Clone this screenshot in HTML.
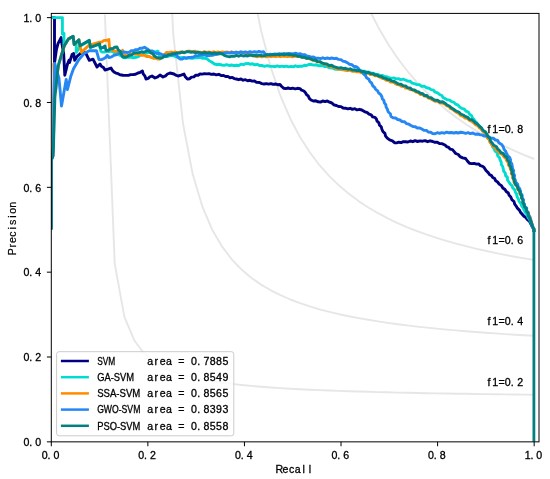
<!DOCTYPE html>
<html lang="en"><head><meta charset="utf-8"><title>Precision-Recall</title>
<style>html,body{margin:0;padding:0;background:#fff}body{width:550px;height:479px;overflow:hidden}</style></head>
<body>
<svg width="550" height="479" viewBox="0 0 550 479" style="display:block;font-family:'Liberation Sans', 'Liberation Mono', sans-serif;font-size:10.6px;white-space:pre;text-anchor:middle;filter:blur(0.35px)" fill="#000" stroke="none">
<rect width="550" height="479" fill="#fff"/>
<clipPath id="c"><rect x="51.3" y="13.4" width="487.7" height="428.45"/></clipPath>
<g clip-path="url(#c)" fill="none" stroke-linejoin="round" stroke-linecap="butt">
<polyline points="104.9,14.5 114.7,263.6 124.4,316.9 134.2,340.2 143.9,353.2 153.7,361.6 163.4,367.4 173.2,371.6 183.0,374.9 192.7,377.4 202.5,379.5 212.2,381.2 222.0,382.7 231.7,383.9 241.5,385.0 251.2,385.9 261.0,386.7 270.8,387.5 280.5,388.1 290.3,388.7 300.0,389.2 309.8,389.7 319.5,390.1 329.3,390.5 339.1,390.9 348.8,391.2 358.6,391.5 368.3,391.8 378.1,392.1 387.8,392.3 397.6,392.6 407.3,392.8 417.1,393.0 426.9,393.2 436.6,393.4 446.4,393.5 456.1,393.7 465.9,393.8 475.6,394.0 485.4,394.1 495.1,394.3 504.9,394.4 514.7,394.5 524.4,394.6 534.2,394.7" stroke="#808080" stroke-opacity="0.2" stroke-width="1.9"/>
<polyline points="153.7,-1052.2 163.4,-169.2 173.2,33.5 183.0,123.5 192.7,174.3 202.5,206.9 212.2,229.7 222.0,246.4 231.7,259.3 241.5,269.5 251.2,277.7 261.0,284.6 270.8,290.3 280.5,295.2 290.3,299.5 300.0,303.2 309.8,306.4 319.5,309.3 329.3,311.8 339.1,314.2 348.8,316.2 358.6,318.1 368.3,319.8 378.1,321.4 387.8,322.9 397.6,324.2 407.3,325.4 417.1,326.6 426.9,327.6 436.6,328.6 446.4,329.6 456.1,330.4 465.9,331.2 475.6,332.0 485.4,332.7 495.1,333.4 504.9,334.1 514.7,334.7 524.4,335.2 534.2,335.8" stroke="#808080" stroke-opacity="0.2" stroke-width="1.9"/>
<polyline points="202.5,-2608.5 212.2,-833.1 222.0,-399.4 231.7,-203.6 241.5,-92.1 251.2,-20.1 261.0,30.3 270.8,67.5 280.5,96.0 290.3,118.7 300.0,137.1 309.8,152.3 319.5,165.2 329.3,176.1 339.1,185.6 348.8,193.8 358.6,201.1 368.3,207.5 378.1,213.2 387.8,218.4 397.6,223.1 407.3,227.3 417.1,231.1 426.9,234.7 436.6,237.9 446.4,240.9 456.1,243.7 465.9,246.2 475.6,248.6 485.4,250.8 495.1,252.9 504.9,254.9 514.7,256.7 524.4,258.4 534.2,260.0" stroke="#808080" stroke-opacity="0.2" stroke-width="1.9"/>
<polyline points="251.2,-4547.8 261.0,-1707.5 270.8,-973.4 280.5,-636.5 290.3,-443.1 300.0,-317.5 309.8,-229.5 319.5,-164.3 329.3,-114.1 339.1,-74.3 348.8,-41.9 358.6,-15.0 368.3,7.6 378.1,26.9 387.8,43.6 397.6,58.2 407.3,71.0 417.1,82.3 426.9,92.5 436.6,101.6 446.4,109.9 456.1,117.3 465.9,124.2 475.6,130.4 485.4,136.1 495.1,141.4 504.9,146.3 514.7,150.9 524.4,155.1 534.2,159.0" stroke="#808080" stroke-opacity="0.2" stroke-width="1.9"/>
<polyline points="51.6,17.6 54.5,17.6 54.5,63.0 56.5,49.0 58.0,43.6 61.1,37.6 62.0,44.0 63.7,54.0 64.8,75.2 67.4,64.4 69.0,60.3 69.5,62.5 72.1,54.5 73.7,53.5 74.7,60.3 77.3,56.1 80.4,53.5 83.0,51.5 86.2,54.0 89.3,60.3 93.0,59.2 97.0,67.0 100.0,64.0 101.4,66.2 103.7,67.7 105.0,70.0 108.1,69.2 111.0,68.0 112.3,70.2 114.0,72.0 115.9,73.1 118.1,73.7 120.0,74.8 123.0,75.3 126.0,75.4 128.4,75.4 130.6,74.6 133.0,74.6 135.6,74.2 138.0,73.0 140.3,72.3 142.4,71.0 143.2,73.8 145.0,76.2 146.0,79.0 148.2,78.4 149.9,76.8 152.0,76.0 155.0,78.0 157.7,76.9 160.0,75.0 163.0,77.0 165.5,75.9 167.5,74.0 170.0,73.0 174.0,74.0 175.9,75.2 178.0,76.0 181.1,75.2 184.0,74.0 185.3,76.8 187.4,79.0 189.7,78.7 191.5,77.1 193.9,76.9 195.6,75.2 198.1,75.3 200.0,74.0 202.3,74.1 204.5,73.6 206.8,73.9 209.0,73.6 211.4,74.4 213.9,74.0 216.3,74.9 218.8,74.3 221.1,75.6 223.6,75.5 225.6,76.5 227.9,76.4 229.9,77.7 232.3,77.4 234.2,78.6 236.4,79.0 238.6,79.7 241.0,79.0 243.1,80.2 245.5,79.7 247.7,80.7 250.0,80.3 252.2,81.1 254.5,81.0 256.8,82.4 259.5,82.5 261.8,83.6 264.1,84.0 266.4,83.6 268.6,84.1 270.9,83.6 273.2,84.4 275.5,84.0 277.7,84.7 280.0,84.5 281.7,86.5 283.6,88.2 285.9,88.6 288.1,88.0 290.4,88.6 292.7,88.2 295.1,88.8 297.6,88.3 300.0,88.6 301.6,90.2 303.9,91.0 305.5,92.7 306.6,94.7 308.4,96.2 309.3,98.4 311.0,100.0 313.3,101.0 315.9,100.8 318.2,101.8 320.5,102.1 322.7,101.0 325.1,101.6 327.3,100.9 329.5,102.2 331.9,103.0 333.9,104.8 336.4,105.5 338.6,106.5 341.0,106.6 343.1,108.0 345.5,108.2 347.8,108.8 350.2,108.3 352.4,109.4 354.9,108.7 357.1,109.9 359.5,109.3 361.8,110.0 364.4,111.6 367.3,112.7 369.0,114.2 371.2,114.8 372.6,116.8 374.9,117.3 376.4,119.0 377.1,121.2 378.9,122.8 379.5,125.1 381.2,126.7 381.8,129.0 382.9,131.5 384.9,133.4 385.6,136.1 387.3,138.2 389.6,139.9 392.4,140.8 394.5,142.7 396.7,142.9 398.9,142.2 401.1,142.6 403.3,141.7 405.5,141.8 407.9,142.0 410.3,141.0 412.8,141.7 415.1,140.7 417.6,141.5 420.0,140.9 422.5,141.2 425.1,140.6 427.6,141.7 430.2,140.8 432.7,141.5 434.9,142.3 437.3,142.3 439.4,143.6 441.8,143.6 445.0,145.0 446.5,146.6 448.7,147.4 450.1,149.2 452.5,149.7 454.0,151.4 455.7,153.5 458.3,154.5 460.0,156.6 462.7,157.8 465.6,158.5 467.4,161.0 469.4,163.2 471.7,163.6 474.1,163.4 476.4,164.1 478.8,164.0 480.4,165.7 482.7,166.3 484.4,167.9 486.0,170.5 488.2,172.6 489.4,174.5 491.5,175.6 492.7,177.5 494.7,178.6 495.7,180.8 497.6,182.0 499.2,184.1 501.4,185.6 502.8,188.0 505.0,189.5 506.2,191.5 508.3,193.0 509.1,195.3 510.8,197.0 511.8,199.6 514.0,201.5 514.7,204.2 516.4,206.4 517.6,208.4 519.4,210.1 520.4,212.2 522.0,214.0 523.7,216.0 525.9,217.6 527.4,219.7 529.5,221.4 532.4,227.0 533.9,229.0 533.9,232.0" stroke="#000080" stroke-width="2.9"/>
<polyline points="51.6,17.6 62.4,17.6 62.4,34.0 64.0,33.5 63.9,46.0 68.4,39.0 73.1,36.6 74.2,44.6 76.2,42.8 76.3,52.4 80.3,46.0 89.3,41.0 90.4,47.4 99.6,44.0 99.6,46.4 100.5,48.6 100.7,51.0 101.8,52.0 104.3,52.1 106.7,51.2 109.2,51.6 111.6,51.0 113.7,52.3 116.0,53.0 118.2,54.7 120.9,55.7 123.0,57.5 125.7,57.7 128.3,57.1 131.0,57.3 133.5,57.7 136.0,57.3 138.4,56.6 140.4,55.1 142.9,54.6 145.0,53.3 147.7,53.0 150.2,51.8 153.0,51.8 155.6,52.0 158.0,51.2 158.7,54.2 160.0,57.0 162.7,57.2 165.2,56.2 167.8,56.5 170.4,55.6 173.0,55.5 175.4,56.7 178.0,57.3 180.6,57.7 183.2,57.4 185.8,58.2 188.4,57.8 191.0,58.2 193.3,58.2 195.5,57.5 197.8,57.8 200.0,57.3 202.4,58.2 204.9,58.2 207.3,59.0 209.2,60.8 211.6,62.0 214.5,64.0 216.9,64.7 219.4,64.3 221.8,65.0 224.2,65.4 226.7,64.6 229.1,65.5 231.5,65.0 234.0,65.7 236.4,65.3 238.8,65.5 241.0,64.2 243.4,64.7 245.6,63.6 248.0,63.5 250.2,64.2 252.6,63.8 254.9,64.8 257.3,64.4 259.4,65.5 261.8,65.5 264.5,66.3 267.3,65.6 270.0,66.4 272.7,66.4 275.0,66.7 277.3,65.9 279.6,66.7 281.9,66.2 284.1,66.7 286.4,66.2 288.7,66.9 291.0,66.4 293.3,66.9 295.5,65.8 297.8,66.6 300.0,66.2 302.3,66.3 304.4,65.3 306.6,65.5 308.7,64.5 311.0,64.5 313.7,65.1 316.4,64.8 319.0,65.8 321.8,65.5 324.3,66.5 327.0,66.6 329.3,67.9 332.0,68.0 334.5,69.0 337.1,69.4 339.8,68.8 342.4,69.8 345.0,69.5 347.5,70.0 350.0,69.7 352.5,70.5 355.0,69.9 357.5,70.7 360.0,70.5 362.2,71.2 364.6,71.1 366.8,72.3 369.2,72.2 371.3,73.3 373.7,73.2 375.8,74.4 378.2,74.5 380.2,75.6 382.6,75.5 384.6,76.6 386.9,76.8 389.0,77.6 391.3,78.4 393.8,77.9 396.0,78.9 398.5,78.6 400.7,79.7 403.2,79.2 405.5,80.0 407.7,81.1 410.2,81.3 412.1,83.1 414.5,83.6 416.9,84.6 419.5,84.7 421.6,86.3 424.3,86.2 426.5,87.8 429.0,88.2 431.0,89.6 433.5,90.2 435.2,92.2 437.7,92.8 439.5,94.5 441.8,95.5 443.0,97.4 445.0,98.6 447.1,99.8 449.6,100.1 451.6,101.7 454.0,102.3 455.5,104.2 457.9,105.0 459.5,106.8 461.7,108.4 464.3,109.2 466.1,111.2 468.6,112.3 469.6,114.3 471.6,115.6 472.4,117.9 474.0,119.5 475.2,121.4 477.0,122.8 478.0,124.8 479.7,126.2 481.0,128.0 482.2,130.2 484.2,131.8 485.3,134.1 487.0,136.0 488.0,138.2 489.6,140.1 490.3,142.4 491.9,144.3 492.5,146.7 494.0,148.6 495.1,151.1 497.2,152.9 497.7,155.7 499.5,157.7 500.1,160.0 501.2,162.1 501.3,164.5 502.7,166.5 503.2,168.8 503.7,171.2 505.3,173.1 505.6,175.6 507.4,177.4 507.5,180.0 508.9,182.0 510.2,184.0 511.9,185.6 512.8,187.9 514.5,189.5 515.3,191.9 516.6,194.1 517.1,196.7 518.3,198.9 519.1,201.3 520.7,203.3 521.6,205.6 523.0,207.7 524.0,210.0 525.1,212.5 527.1,214.5 527.9,217.2 529.5,219.5 533.3,228.5 533.9,229.0 533.9,232.0" stroke="#00ddd0" stroke-width="2.9"/>
<polyline points="51.3,229.5 51.3,160.0 53.0,156.0 53.5,145.0 53.8,100.0 54.2,78.0 53.8,64.0 54.6,70.0 55.6,90.0 57.0,75.9 58.4,65.4 61.1,56.1 64.3,45.7 68.4,38.9 73.1,36.4 74.2,44.6 78.9,39.9 79.9,45.7 81.5,52.4 88.3,45.7 92.0,44.5 99.6,42.2 102.0,41.9 104.1,40.4 106.7,40.4 108.9,39.5 109.4,47.0 110.8,48.8 112.7,50.0 114.7,51.3 117.3,51.2 119.3,52.5 122.5,50.4 123.6,53.3 125.0,56.0 127.6,55.5 130.1,54.3 132.7,53.7 135.1,54.3 137.6,54.1 140.0,54.5 142.1,55.4 144.5,55.3 146.5,56.5 148.9,56.4 151.0,57.4 153.2,58.2 155.5,58.0 157.7,59.0 160.0,59.0 161.8,57.5 163.0,55.5 165.1,54.2 166.5,52.4 168.7,52.8 170.9,52.0 173.1,52.6 175.4,52.0 177.6,52.8 179.8,52.0 182.0,52.3 184.7,52.2 187.3,51.3 190.0,51.2 192.5,51.9 195.0,51.1 197.5,52.3 200.0,52.1 202.2,52.6 204.5,51.6 206.7,52.5 209.0,52.0 211.2,52.6 213.5,51.8 215.7,52.5 218.0,52.0 220.2,52.6 222.5,51.9 224.7,52.5 227.0,52.0 229.2,52.6 231.5,51.8 233.7,52.7 236.0,52.1 238.2,52.6 240.5,52.0 242.7,52.6 245.0,52.4 247.4,53.6 250.1,54.1 252.4,55.6 255.0,56.4 257.3,56.8 259.6,56.1 261.9,56.8 264.2,55.9 266.5,56.8 268.8,56.0 271.2,56.7 273.5,56.0 275.8,56.7 278.1,56.0 280.4,56.7 282.7,56.1 285.0,56.4 287.5,56.6 290.0,56.1 292.5,56.8 295.0,56.0 297.5,56.7 300.0,56.2 302.1,57.3 304.5,57.1 306.5,58.5 308.9,58.5 311.0,59.5 313.1,60.4 315.4,60.7 317.4,61.8 319.7,62.1 321.8,63.0 323.8,64.0 326.0,64.4 327.9,65.7 330.2,65.9 332.0,67.4 334.5,67.3 336.4,68.5 339.2,69.4 342.2,69.1 345.0,70.0 347.3,70.5 349.8,70.0 352.1,71.2 354.5,71.0 356.7,71.9 359.1,71.5 361.2,72.8 363.7,72.3 365.8,73.6 368.2,73.1 370.3,74.5 372.7,74.5 375.0,75.7 377.7,75.9 380.0,77.2 382.1,78.3 384.4,78.8 386.3,80.3 388.7,80.3 390.5,82.1 393.0,82.1 395.0,83.4 397.0,84.6 399.4,84.9 401.4,86.3 403.9,86.3 405.7,88.1 408.1,88.1 410.0,89.6 412.4,89.9 414.5,91.0 416.4,92.2 418.6,92.8 420.3,94.5 422.8,94.6 424.5,96.2 426.8,96.7 428.6,98.2 430.8,98.8 432.7,100.0 435.0,101.3 437.8,101.3 440.0,102.9 442.6,103.1 445.0,104.2 446.6,105.8 448.9,106.3 450.2,108.3 452.3,109.2 454.0,110.6 456.2,112.2 458.7,113.4 460.6,115.5 463.2,116.5 465.2,118.1 467.8,118.7 469.6,120.6 472.0,121.5 474.0,123.0 475.6,124.9 478.0,125.7 479.4,127.9 481.4,129.2 482.9,131.4 485.1,133.1 486.3,135.5 487.3,137.8 489.2,139.5 489.9,142.0 491.3,144.0 492.8,146.2 495.3,147.4 496.4,149.9 498.5,151.5 500.2,153.5 502.6,154.7 504.0,156.9 506.0,158.5 506.7,160.7 508.3,162.6 508.5,165.1 510.0,167.0 510.4,169.2 511.6,171.2 511.3,173.6 512.8,175.4 512.6,177.8 513.7,179.8 514.0,182.0 515.2,184.5 517.2,186.5 517.7,189.3 519.5,191.4 519.8,193.7 521.3,195.7 521.5,198.0 523.0,200.0 522.8,202.5 524.0,204.5 524.8,206.6 526.2,208.5 526.6,210.8 528.4,212.4 528.7,214.8 530.0,216.7 533.3,228.5 533.9,229.0 533.9,232.0" stroke="#ff8c00" stroke-width="2.9"/>
<polyline points="51.3,229.5 51.3,160.0 53.0,156.0 53.5,145.0 53.8,100.0 54.4,75.0 54.8,63.4 56.4,70.0 58.9,78.0 60.0,89.4 61.5,106.0 66.2,79.5 67.4,89.6 70.9,75.9 73.5,68.8 78.9,59.6 84.1,53.5 89.3,50.8 96.4,50.6 99.0,59.6 101.6,59.6 104.0,58.5 105.9,57.3 107.3,55.5 109.0,57.5 111.6,56.9 113.8,55.3 116.2,54.9 118.2,53.6 121.0,53.1 123.6,51.8 127.0,52.5 129.3,52.1 131.2,50.7 133.6,50.7 135.7,49.6 138.0,49.6 140.0,48.2 142.4,48.2 144.5,47.3 147.3,49.0 149.5,50.7 152.3,51.0 154.5,52.7 157.1,53.5 159.8,53.5 162.3,54.6 165.0,55.0 167.3,55.2 169.6,54.6 171.9,55.2 174.1,54.3 176.4,54.5 177.8,57.1 180.0,59.0 182.3,59.1 184.3,57.8 186.6,58.2 188.8,57.4 191.0,57.3 193.4,57.1 195.4,55.8 197.9,55.9 200.0,54.8 202.2,55.3 204.5,54.8 206.7,55.8 209.0,55.5 212.1,55.4 215.0,54.5 217.5,54.3 219.9,53.6 222.4,53.8 224.8,52.7 227.3,52.7 229.6,53.1 231.8,52.3 234.1,52.9 236.4,52.2 238.7,52.8 240.9,51.9 243.2,52.5 245.4,51.9 247.7,52.6 250.0,51.7 252.3,52.3 254.5,51.6 256.8,52.4 259.0,51.4 261.3,52.2 263.6,51.8 265.5,54.5 267.8,54.8 270.1,54.1 272.5,54.6 274.8,53.9 277.1,54.6 279.4,53.7 281.7,54.4 284.0,53.5 286.4,54.3 288.7,53.4 291.0,53.6 293.2,53.9 295.5,53.2 297.8,54.1 300.0,53.6 302.1,54.8 304.6,54.6 306.7,55.9 309.0,56.4 311.2,57.2 313.6,57.0 315.8,58.2 318.2,58.2 320.5,58.7 322.8,57.8 325.0,58.6 327.3,58.0 329.6,58.6 331.8,58.0 334.1,58.6 336.4,58.2 338.5,59.4 340.9,59.6 342.9,61.1 345.2,61.6 347.3,62.7 349.3,64.2 351.8,64.6 353.7,66.3 356.2,66.7 358.2,68.2 359.8,70.3 362.2,71.5 363.4,73.9 365.5,75.5 366.6,77.8 368.8,79.2 369.8,81.5 371.7,83.2 372.6,85.6 374.5,87.3 375.7,89.3 377.6,90.8 378.6,93.0 380.6,94.4 381.8,96.4 382.3,98.7 383.9,100.5 384.3,102.8 385.8,104.7 386.1,107.0 387.3,109.0 388.1,111.7 390.3,113.7 391.0,116.4 393.1,117.7 395.6,118.0 397.6,119.5 400.0,120.0 402.0,121.5 404.6,121.8 406.5,123.6 408.9,124.2 411.0,125.5 413.0,126.6 415.4,126.7 417.3,128.0 419.8,127.9 421.8,129.0 423.9,130.2 426.4,130.4 428.2,132.0 430.7,132.2 432.7,133.6 435.0,133.7 437.2,132.7 439.6,133.4 441.8,132.7 444.2,133.2 446.6,132.1 448.9,132.8 451.3,132.5 453.7,133.0 456.1,132.5 458.4,133.0 460.8,132.2 463.2,132.6 465.6,133.3 468.1,132.7 470.4,133.6 472.9,133.0 475.2,134.2 477.7,134.0 479.8,134.7 482.1,134.9 484.1,136.1 486.5,136.0 488.6,136.8 490.8,138.0 493.3,138.2 495.3,139.9 497.7,140.5 499.1,142.9 501.7,144.4 503.2,146.8 504.1,149.4 505.8,151.5 506.8,154.0 507.8,156.0 509.6,157.4 510.5,159.5 510.5,161.8 511.8,163.8 512.2,166.0 512.5,168.4 513.7,170.6 513.3,173.1 514.5,175.3 514.3,177.8 515.3,180.0 515.9,182.4 517.7,184.2 518.1,186.7 519.7,188.7 520.4,191.0 520.8,193.3 522.2,195.2 522.1,197.6 523.3,199.6 523.2,202.0 524.4,204.0 524.8,206.4 526.7,208.1 526.6,210.7 528.1,212.6 528.6,214.9 529.7,217.0 533.3,228.5 533.9,229.0 533.9,232.0" stroke="#2487f3" stroke-width="2.9"/>
<polyline points="51.3,229.5 51.3,160.0 52.7,157.0 53.5,145.0 54.9,96.8 56.1,86.3 57.0,75.9 58.4,65.4 61.1,56.1 64.3,45.7 68.4,38.9 73.1,36.2 74.2,44.6 78.9,39.7 79.9,45.7 89.3,40.2 90.4,47.4 99.6,43.8 99.9,46.1 100.7,48.2 103.1,47.5 105.0,46.0 105.4,48.3 106.2,50.4 108.5,50.2 110.4,48.7 112.8,48.7 114.7,47.2 117.0,47.0 118.2,49.8 120.3,51.4 121.1,54.0 122.5,56.4 124.7,57.4 127.1,56.7 129.3,55.3 131.8,54.8 133.9,53.2 136.4,52.7 139.0,52.7 141.4,51.8 144.0,52.2 146.4,51.1 149.0,51.0 150.6,52.8 152.9,53.9 154.3,56.0 156.4,57.3 160.0,58.2 162.2,57.8 164.1,56.3 166.4,56.2 168.4,54.9 170.7,54.6 172.7,53.6 175.1,53.6 177.3,52.9 179.7,53.1 182.0,52.0 184.4,52.8 186.6,51.8 189.0,51.8 191.2,52.2 193.4,51.9 195.6,52.8 197.8,52.1 200.0,52.7 202.4,53.0 204.9,52.5 207.3,53.2 209.7,52.7 212.1,53.6 214.6,52.8 216.9,53.7 219.4,53.0 221.8,53.6 224.3,55.4 227.3,56.4 229.6,56.8 231.8,56.0 234.1,56.4 236.4,55.4 238.7,56.2 240.9,55.2 243.2,56.0 245.5,55.5 247.8,56.0 250.2,55.1 252.5,55.7 254.8,55.3 257.1,55.7 259.5,55.2 261.8,55.5 264.6,55.8 267.2,54.6 270.0,55.2 272.7,54.5 275.0,54.9 277.3,54.1 279.6,55.0 281.9,54.0 284.1,55.0 286.4,54.0 288.7,54.7 291.0,54.5 293.2,55.3 295.5,55.3 297.7,56.3 300.0,56.4 302.1,57.4 304.4,57.3 306.5,58.2 308.9,58.2 311.0,59.0 313.1,60.0 315.5,60.0 317.4,61.5 319.8,61.6 321.8,62.7 324.1,63.8 326.8,63.9 328.9,65.5 331.7,65.3 333.9,66.7 336.4,67.3 338.6,68.1 341.0,67.7 343.2,68.5 345.5,68.3 347.7,69.3 350.1,68.8 352.2,70.0 354.5,70.0 356.7,70.6 359.1,70.4 361.3,71.6 363.7,71.5 365.8,72.7 368.2,72.3 370.4,73.5 372.7,73.6 374.7,74.8 377.0,75.0 379.0,76.3 381.3,76.4 383.2,77.9 385.5,78.2 387.5,79.5 389.9,79.8 391.9,81.1 394.3,81.5 396.4,82.7 398.5,84.0 401.0,84.3 403.1,85.7 405.6,85.9 407.5,87.8 410.1,87.9 412.0,89.6 414.5,90.0 416.4,91.3 418.6,91.8 420.4,93.3 422.8,93.6 424.4,95.5 426.9,95.5 428.5,97.4 430.9,97.6 432.7,99.0 435.0,100.3 437.8,100.3 439.9,102.0 442.7,101.8 445.0,103.2 447.1,105.0 449.6,106.2 451.6,108.1 454.0,109.5 456.2,111.1 458.8,112.0 460.7,114.0 463.2,115.0 465.3,116.4 467.7,117.3 469.4,119.3 472.0,119.9 474.0,121.4 475.7,123.1 477.9,124.4 479.4,126.3 481.4,127.7 482.8,130.1 485.2,131.7 486.8,134.0 488.0,136.4 490.0,138.4 490.5,141.1 492.3,143.2 493.8,145.3 496.3,146.5 497.6,148.8 499.5,150.5 501.0,152.6 503.5,153.7 504.9,156.0 507.0,157.5 507.5,160.1 509.3,162.1 509.3,164.8 510.8,167.0 511.1,169.2 512.2,171.2 512.0,173.5 513.3,175.5 513.2,177.8 514.1,179.8 514.5,182.0 515.6,184.5 517.5,186.5 518.2,189.3 520.0,191.4 520.3,193.7 521.6,195.7 521.6,198.1 523.0,200.0 522.8,202.5 524.0,204.5 524.5,206.9 526.2,208.8 526.5,211.2 528.0,213.1 528.2,215.7 529.5,217.7 533.3,228.5 533.9,229.0 533.9,232.0" stroke="#008080" stroke-width="2.9"/>
<line x1="533.9" x2="533.9" y1="230" y2="443" stroke="#008080" stroke-width="2.8"/>
</g>
<rect x="51.3" y="13.4" width="487.7" height="428.45" fill="none" stroke="#000" stroke-width="1"/>
<path d="M51.30 441.85v4.4M51.3 441.85h-4.4M147.87 441.85v4.4M51.3 357.01h-4.4M244.45 441.85v4.4M51.3 272.17h-4.4M341.02 441.85v4.4M51.3 187.33h-4.4M437.60 441.85v4.4M51.3 102.48h-4.4M534.17 441.85v4.4M51.3 17.64h-4.4" stroke="#000" stroke-width="1" fill="none"/>
<text xml:space="preserve" stroke="#000" stroke-width="0.3" y="458.70"><tspan x="44.75 49.00 56.45">0.0</tspan></text>
<text xml:space="preserve" stroke="#000" stroke-width="0.3" y="446.05"><tspan x="26.38 30.62 38.08">0.0</tspan></text>
<text xml:space="preserve" stroke="#000" stroke-width="0.3" y="458.70"><tspan x="141.32 145.57 153.02">0.2</tspan></text>
<text xml:space="preserve" stroke="#000" stroke-width="0.3" y="361.21"><tspan x="26.38 30.62 38.08">0.2</tspan></text>
<text xml:space="preserve" stroke="#000" stroke-width="0.3" y="458.70"><tspan x="237.90 242.15 249.60">0.4</tspan></text>
<text xml:space="preserve" stroke="#000" stroke-width="0.3" y="276.37"><tspan x="26.38 30.62 38.08">0.4</tspan></text>
<text xml:space="preserve" stroke="#000" stroke-width="0.3" y="458.70"><tspan x="334.47 338.72 346.17">0.6</tspan></text>
<text xml:space="preserve" stroke="#000" stroke-width="0.3" y="191.53"><tspan x="26.38 30.62 38.08">0.6</tspan></text>
<text xml:space="preserve" stroke="#000" stroke-width="0.3" y="458.70"><tspan x="431.05 435.30 442.75">0.8</tspan></text>
<text xml:space="preserve" stroke="#000" stroke-width="0.3" y="106.68"><tspan x="26.38 30.62 38.08">0.8</tspan></text>
<text xml:space="preserve" stroke="#000" stroke-width="0.3" y="458.70"><tspan x="527.62 531.87 539.32">1.0</tspan></text>
<text xml:space="preserve" stroke="#000" stroke-width="0.3" y="21.84"><tspan x="26.38 30.62 38.08">1.0</tspan></text>
<text xml:space="preserve" stroke="#000" stroke-width="0.3" y="472.50"><tspan x="279.35 285.45 291.55 297.65 303.75 309.85">Recall</tspan></text>
<text xml:space="preserve" stroke="#000" stroke-width="0.2" y="228.30" transform="rotate(-90 15.7 228.3)"><tspan x="-7.70 -1.85 4.00 9.85 15.70 21.55 27.40 33.25 39.10">Precision</tspan></text>
<text xml:space="preserve" stroke="#000" stroke-width="0.3" y="385.77"><tspan x="489.08 495.28 501.48 507.68 512.28 520.08">f1=0.2</tspan></text>
<text xml:space="preserve" stroke="#000" stroke-width="0.3" y="324.93"><tspan x="489.08 495.28 501.48 507.68 512.28 520.08">f1=0.4</tspan></text>
<text xml:space="preserve" stroke="#000" stroke-width="0.3" y="244.44"><tspan x="489.08 495.28 501.48 507.68 512.28 520.08">f1=0.6</tspan></text>
<text xml:space="preserve" stroke="#000" stroke-width="0.3" y="132.95"><tspan x="489.08 495.28 501.48 507.68 512.28 520.08">f1=0.8</tspan></text>
<rect x="56.6" y="351.7" width="177.2" height="84.1" rx="2.5" fill="#fff" fill-opacity="0.8" stroke="#ccc" stroke-width="1"/>
<line x1="60.9" x2="88.9" y1="361.0" y2="361.0" stroke="#000080" stroke-width="2.5"/>
<text xml:space="preserve" stroke="#000" stroke-width="0.3" y="364.70"><tspan text-anchor="start" x="97.15" textLength="18.11" lengthAdjust="spacingAndGlyphs">SVM</tspan><tspan x="118.75 125.01 131.28 137.56 143.82 150.09 156.37 162.63 168.90 175.18 181.44 187.71 193.98 198.66 206.52 212.79 219.06 225.33">     area = 0.7885</tspan></text>
<line x1="60.9" x2="88.9" y1="377.2" y2="377.2" stroke="#00ddd0" stroke-width="2.5"/>
<text xml:space="preserve" stroke="#000" stroke-width="0.3" y="380.90"><tspan text-anchor="start" x="97.15" textLength="36.92" lengthAdjust="spacingAndGlyphs">GA-SVM</tspan><tspan x="137.56 143.82 150.09 156.37 162.63 168.90 175.18 181.44 187.71 193.98 198.66 206.52 212.79 219.06 225.33">  area = 0.8549</tspan></text>
<line x1="60.9" x2="88.9" y1="393.4" y2="393.4" stroke="#ff8c00" stroke-width="2.5"/>
<text xml:space="preserve" stroke="#000" stroke-width="0.3" y="397.10"><tspan text-anchor="start" x="97.15" textLength="43.19" lengthAdjust="spacingAndGlyphs">SSA-SVM</tspan><tspan x="143.82 150.09 156.37 162.63 168.90 175.18 181.44 187.71 193.98 198.66 206.52 212.79 219.06 225.33"> area = 0.8565</tspan></text>
<line x1="60.9" x2="88.9" y1="409.6" y2="409.6" stroke="#2487f3" stroke-width="2.5"/>
<text xml:space="preserve" stroke="#000" stroke-width="0.3" y="413.30"><tspan text-anchor="start" x="97.15" textLength="43.19" lengthAdjust="spacingAndGlyphs">GWO-SVM</tspan><tspan x="143.82 150.09 156.37 162.63 168.90 175.18 181.44 187.71 193.98 198.66 206.52 212.79 219.06 225.33"> area = 0.8393</tspan></text>
<line x1="60.9" x2="88.9" y1="425.8" y2="425.8" stroke="#008080" stroke-width="2.5"/>
<text xml:space="preserve" stroke="#000" stroke-width="0.3" y="429.50"><tspan text-anchor="start" x="97.15" textLength="43.19" lengthAdjust="spacingAndGlyphs">PSO-SVM</tspan><tspan x="143.82 150.09 156.37 162.63 168.90 175.18 181.44 187.71 193.98 198.66 206.52 212.79 219.06 225.33"> area = 0.8558</tspan></text>
</svg>
</body></html>
